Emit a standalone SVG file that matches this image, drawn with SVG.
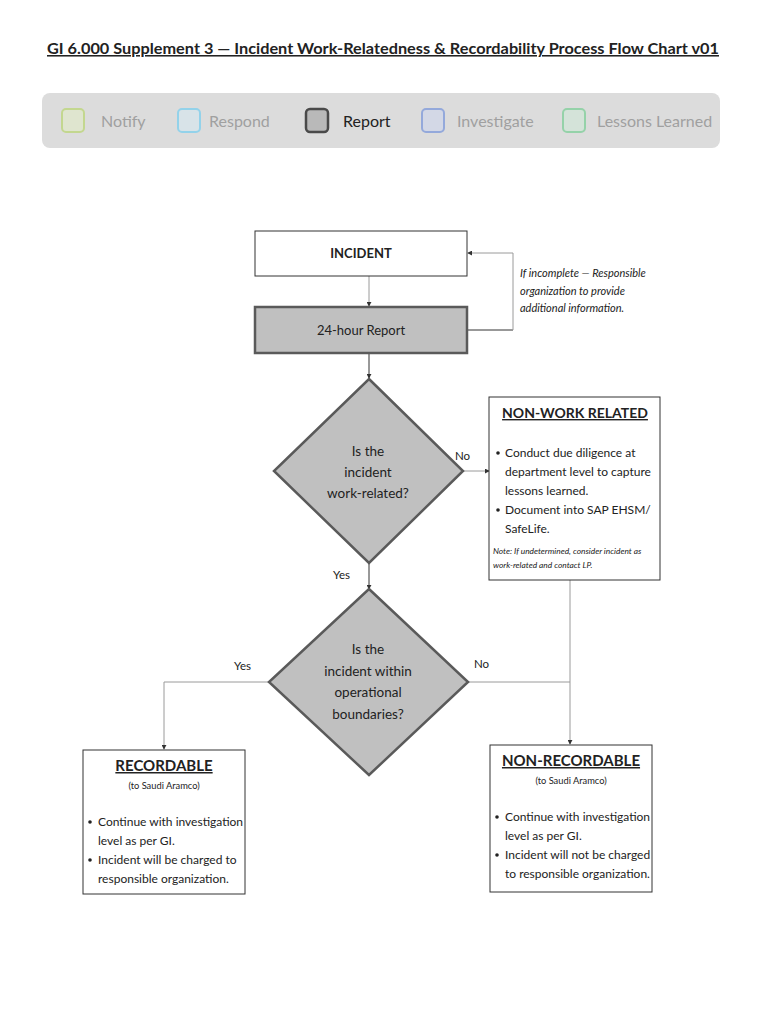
<svg xmlns="http://www.w3.org/2000/svg" width="768" height="1024" viewBox="0 0 768 1024">
<defs>
<style>
text{font-family:Lato,"Open Sans","Liberation Sans",sans-serif;fill:#222}
.t{font-size:12px}
.lg{font-size:16px;fill:#a0a0a0}
.q{font-size:13.5px;text-anchor:middle}
.h{font-size:15px;font-weight:bold;text-anchor:middle;text-decoration:underline}
.s{font-size:9.3px;text-anchor:middle}
.it{font-style:italic;font-size:11px}
.nt{font-style:italic;font-size:8.4px}
.lbl{font-size:11.5px}
.box{fill:#fff;stroke:#333;stroke-width:1}
.gr{fill:#c0c0c0;stroke:#5a5a5a;stroke-width:2.5}
.c{fill:none;stroke:#9a9a9a;stroke-width:1}
.cd{fill:none;stroke:#333;stroke-width:1}
</style>
<marker id="a" viewBox="0 0 6 6" refX="5" refY="3" markerWidth="5" markerHeight="5" orient="auto"><path d="M0,0L6,3L0,6z" fill="#333"/></marker>
</defs>
<rect width="768" height="1024" fill="#fff"/>
<text x="383" y="54" text-anchor="middle" font-size="15.5" font-weight="bold" text-decoration="underline" textLength="672" lengthAdjust="spacingAndGlyphs">GI 6.000 Supplement 3 — Incident Work-Relatedness &amp; Recordability Process Flow Chart v01</text>
<g id="legend">
<rect x="42" y="93" width="678" height="55" rx="8" fill="#dcdcdc"/>
<rect x="62" y="109" width="22" height="23" rx="4" fill="#dfe5cf" stroke="#c3d78f" stroke-width="2"/>
<text class="lg" x="101" y="127">Notify</text>
<rect x="178" y="109" width="22" height="23" rx="4" fill="#d8e3e8" stroke="#93d2ea" stroke-width="2"/>
<text class="lg" x="209" y="127">Respond</text>
<rect x="306" y="109" width="22" height="23" rx="4" fill="#b9b9b9" stroke="#4a4a4a" stroke-width="2.5"/>
<text class="lg" x="343" y="127" style="fill:#222">Report</text>
<rect x="422" y="109" width="22" height="23" rx="4" fill="#d3d8e6" stroke="#94a9db" stroke-width="2"/>
<text class="lg" x="457" y="127">Investigate</text>
<rect x="563" y="109" width="22" height="23" rx="4" fill="#d4e3d9" stroke="#95d2a9" stroke-width="2"/>
<text class="lg" x="597" y="127">Lessons Learned</text>
</g>
<g id="connectors">
<path class="c" d="M369,276V306" marker-end="url(#a)"/>
<path class="cd" d="M467,330H513"/>
<path class="c" d="M513,330V253H468" marker-end="url(#a)"/>
<path class="cd" d="M369,353V378" marker-end="url(#a)"/>
<path class="c" d="M463,471H489" marker-end="url(#a)"/>
<path class="cd" d="M369,563V589" marker-end="url(#a)"/>
<path class="c" d="M269,682H164V749" marker-end="url(#a)"/>
<path class="c" d="M468,682H570"/>
<path class="c" d="M570,580V744" marker-end="url(#a)"/>
<text class="lbl" x="455" y="460">No</text>
<text class="lbl" x="333" y="579">Yes</text>
<text class="lbl" x="234" y="670">Yes</text>
<text class="lbl" x="474" y="668">No</text>
<text class="it" x="520" y="277">If incomplete — Responsible</text>
<text class="it" x="520" y="295">organization to provide</text>
<text class="it" x="520" y="312">additional information.</text>
</g>
<g id="incident">
<rect class="box" x="255" y="231" width="212" height="45"/>
<text x="361" y="258" text-anchor="middle" font-size="13" font-weight="bold">INCIDENT</text>
</g>
<g id="report24">
<rect class="gr" x="255" y="307" width="212" height="46"/>
<text x="361" y="335" text-anchor="middle" font-size="13">24-hour Report</text>
</g>
<g id="q1">
<path class="gr" d="M369,379L463,471L369,563L274,471z"/>
<text class="q" x="368" y="456">Is the</text>
<text class="q" x="368" y="477">incident</text>
<text class="q" x="368" y="498">work-related?</text>
</g>
<g id="nonwork">
<rect class="box" x="489" y="397" width="171" height="183"/>
<text class="h" x="575" y="418" style="font-size:14px">NON-WORK RELATED</text>
<circle cx="498" cy="453" r="1.8" fill="#222"/>
<text class="t" x="505" y="457">Conduct due diligence at</text>
<text class="t" x="505" y="476">department level to capture</text>
<text class="t" x="505" y="495">lessons learned.</text>
<circle cx="498" cy="510" r="1.8" fill="#222"/>
<text class="t" x="505" y="514">Document into SAP EHSM/</text>
<text class="t" x="505" y="533">SafeLife.</text>
<text class="nt" x="493" y="554">Note: If undetermined, consider incident as</text>
<text class="nt" x="493" y="568">work-related and contact LP.</text>
</g>
<g id="q2">
<path class="gr" d="M369,589L468,682L369,775L269,682z"/>
<text class="q" x="368" y="654">Is the</text>
<text class="q" x="368" y="676">incident within</text>
<text class="q" x="368" y="697">operational</text>
<text class="q" x="368" y="719">boundaries?</text>
</g>
<g id="recordable">
<rect class="box" x="83" y="750" width="162" height="144"/>
<text class="h" x="164" y="771">RECORDABLE</text>
<text class="s" x="164" y="789">(to Saudi Aramco)</text>
<circle cx="90" cy="822" r="1.8" fill="#222"/>
<text class="t" x="98" y="826">Continue with investigation</text>
<text class="t" x="98" y="845">level as per GI.</text>
<circle cx="90" cy="860" r="1.8" fill="#222"/>
<text class="t" x="98" y="864">Incident will be charged to</text>
<text class="t" x="98" y="883">responsible organization.</text>
</g>
<g id="nonrecordable">
<rect class="box" x="490" y="745" width="162" height="147"/>
<text class="h" x="571" y="766">NON-RECORDABLE</text>
<text class="s" x="571" y="784">(to Saudi Aramco)</text>
<circle cx="497" cy="817" r="1.8" fill="#222"/>
<text class="t" x="505" y="821">Continue with investigation</text>
<text class="t" x="505" y="840">level as per GI.</text>
<circle cx="497" cy="855" r="1.8" fill="#222"/>
<text class="t" x="505" y="859">Incident will not be charged</text>
<text class="t" x="505" y="878">to responsible organization.</text>
</g>
</svg>
